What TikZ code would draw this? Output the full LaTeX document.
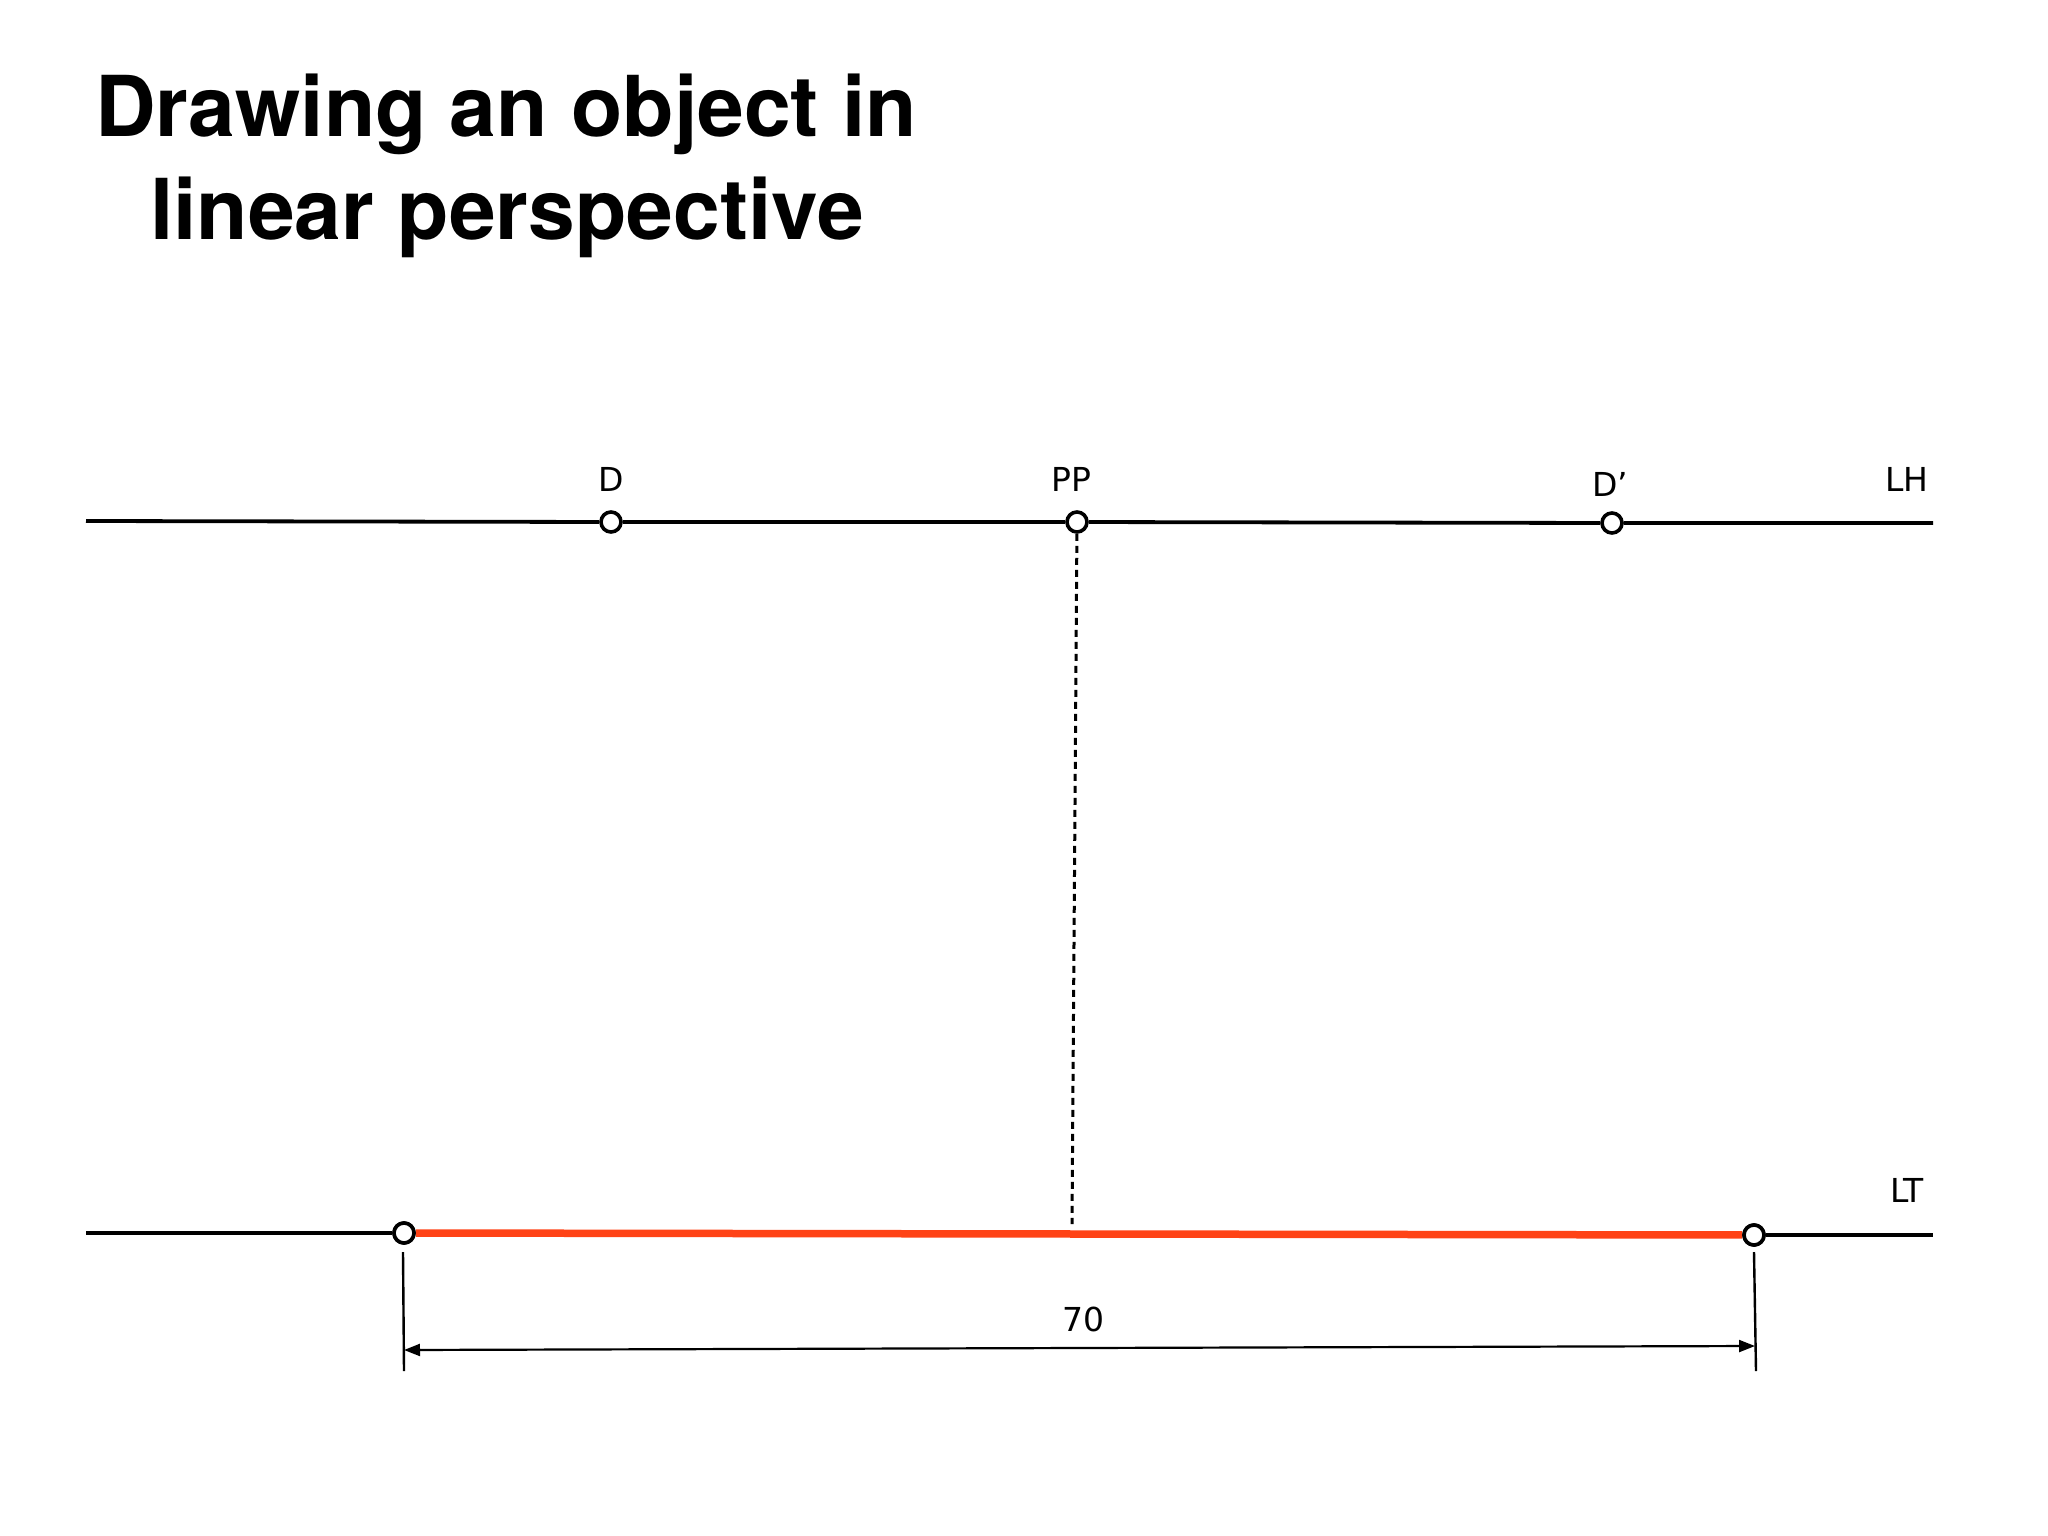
\documentclass[tikz,border=0pt]{standalone}
\usepackage{fontspec}
\setmainfont{TeX Gyre Heros}
\newfontfamily\lblfont{DejaVu Sans}
\usetikzlibrary{arrows.meta}
\definecolor{redline}{HTML}{FF4316}
\tikzset{
  pt/.style={circle, draw=black, fill=white, line width=3.6pt, inner sep=0pt, minimum size=20pt},
  mainline/.style={line width=3.8pt, black},
  lbl/.style={font=\lblfont\fontsize{33}{38}\selectfont, anchor=base, inner sep=0pt},
  ttl/.style={font=\bfseries\fontsize{84}{100}\selectfont, anchor=base, inner sep=0pt},
  tick/.style={line width=2.4pt, black},
  dimarrow/.style={line width=2.2pt, black, {Triangle[length=16pt,width=12pt]}-{Triangle[length=16pt,width=12pt]}}
}
\begin{document}
\begin{tikzpicture}[x=1pt,y=-1pt]
\useasboundingbox[fill=white] (0,0) rectangle (2048,1536);
% title
\node[ttl] (t1) at (506,137) {Drawing an object in};
\node[ttl] (t2) at (507,239) {linear perspective};
% horizon line
\coordinate (lhL) at (86,521);
\coordinate (lhR) at (1933,523);
\node[pt] (D) at (611,522) {};
\node[pt] (PP) at (1077,522) {};
\node[pt] (Dp) at (1612,523) {};
\draw[mainline] (lhL) -- (D) -- (PP) -- (Dp) -- (lhR);
% ground line
\coordinate (ltL) at (86,1233);
\coordinate (ltR) at (1933,1235);
\node[pt] (A) at (404,1233) {};
\node[pt] (B) at (1754,1235) {};
\draw[mainline] (ltL) -- (A);
\draw[mainline] (B) -- (ltR);
\draw[line width=7.5pt, redline] (A) -- (B);
\node[pt] at (A) {};
\node[pt] at (B) {};
% dotted vertical
\coordinate (pb) at (1072,1224);
\draw[line width=3pt, dash pattern=on 7pt off 5pt] (PP) -- (pb);
% labels
\node[lbl] (lD) at (611,491) {D};
\node[lbl] (lPP) at (1071,491) {PP};
\node[lbl] (lDp) at (1610,496) {D’};
\node[lbl] (lLH) at (1907,491) {LH};
\node[lbl] (lLT) at (1907,1202) {LT};
% dimension
\coordinate (tAt) at (403,1252);
\coordinate (tAb) at (404,1371);
\coordinate (tBt) at (1754,1252);
\coordinate (tBb) at (1756,1371);
\draw[tick] (tAt) -- (tAb);
\draw[tick] (tBt) -- (tBb);
\coordinate (dA) at (404,1350);
\coordinate (dB) at (1755,1346);
\draw[dimarrow] (dA) -- (dB);
\node[lbl] (l70) at (1083,1331) {70};
\end{tikzpicture}
\end{document}
